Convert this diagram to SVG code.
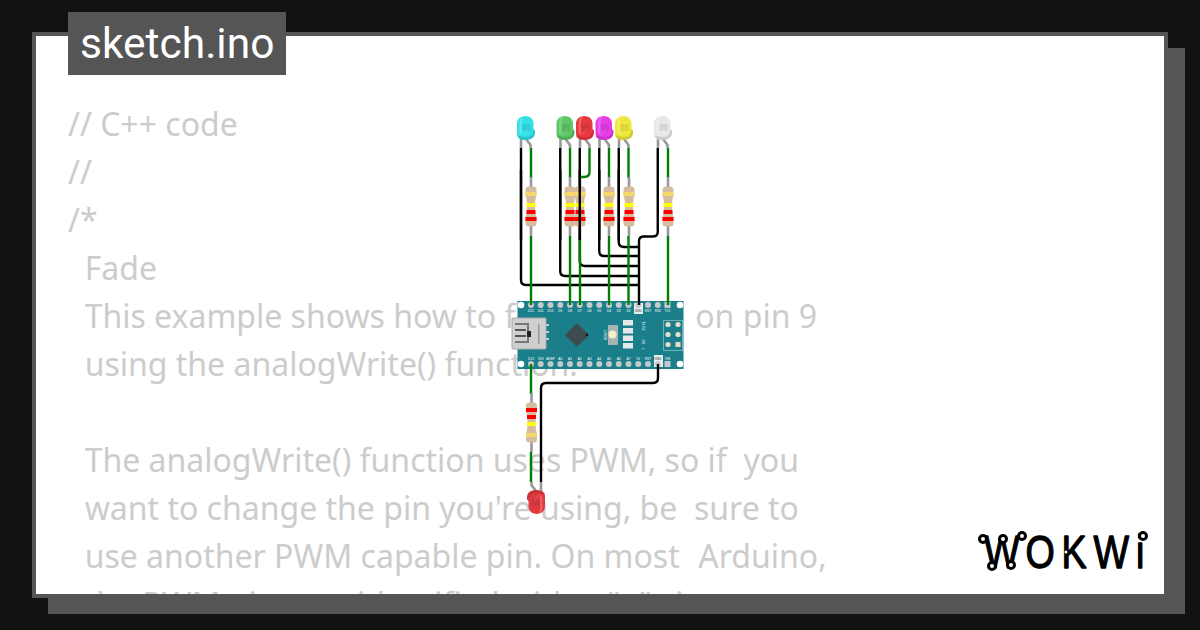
<svg xmlns="http://www.w3.org/2000/svg" xmlns:xlink="http://www.w3.org/1999/xlink" width="1200" height="630" viewBox="0 0 1200 630">
<style>
.code{font-family:"Noto Sans","Open Sans",sans-serif;font-size:32px;fill:#ccc;white-space:pre}
.tab{font-family:Roboto,"Liberation Sans",sans-serif;font-size:42.500px;fill:#fff}
.blk{fill:none;stroke:#000;stroke-width:2.400;stroke-linejoin:round}
.grn{fill:none;stroke:#008000;stroke-width:2.400;stroke-linejoin:round}
.lead{fill:none;stroke:#999;stroke-width:2.600}
.pin{fill:#c4c9c9}
.pl{font-family:"Liberation Sans",sans-serif;font-size:3.200px;fill:#fff;text-anchor:middle}
.logo{font-family:"Liberation Sans",sans-serif;font-size:47px;fill:#000;stroke:#000;stroke-width:1.300;stroke-linejoin:round}
.ring{fill:#fff;stroke:#000;stroke-width:3}
</style>
<defs>
<clipPath id="panel"><rect x="36" y="36" width="1128" height="558"/></clipPath>
<g id="resistor">
<path class="lead" d="M0 0V10M0 49V59"/>
<path d="M-5.500 13Q-5.500 9.500-2.500 9.500H2.500Q5.500 9.500 5.500 13V19Q4 22 4 29Q4 37 5.500 40V46Q5.500 49.500 2.500 49.500H-2.500Q-5.500 49.500-5.500 46V40Q-4 37-4 29Q-4 22-5.500 19Z" fill="#d5bd9f"/>
<rect x="-5.500" y="15" width="11" height="4" fill="#f5d76a"/>
<rect x="-4.500" y="26" width="9" height="4" fill="#ff0"/>
<rect x="-4.500" y="33" width="9" height="4" fill="#f00"/>
<rect x="-5.500" y="40" width="11" height="4" fill="#f00"/>
</g>
<g id="led">
<path class="lead" d="M-4.500 25V34"/>
<path class="lead" d="M.5 25L5 31V34"/>
<path d="M-8.500 20V8.500A8.500 8.500 0 0 1 8 8.500V15Q10 16 9.500 19Q9 26 0 26Q-8.500 26-8.500 20Z" fill="currentColor"/>
<path d="M8 15Q10 16 9.500 19Q9 26 0 26Q-6.500 26-8.500 21Q-3 23.500 2 23Q8 22 8 15Z" fill="#000" opacity=".13"/>
<path d="M-6 19V8.500Q-6 3.500-2 2.500Q-3.500 5.500-3.500 9V21Z" fill="#fff" opacity=".2"/>
<rect x="-3" y="10" width="8" height="7" fill="#000" opacity=".08"/>
<path d="M-3.500 20L3 13.500V15.500L-3.500 22Z" fill="#fff" opacity=".1"/>
</g>
</defs>

<rect width="1200" height="630" fill="#111"/>
<rect x="48" y="48" width="1137" height="566" fill="#555"/>
<rect x="34" y="34" width="1132" height="562" fill="#fff" stroke="#555" stroke-width="4"/>

<g clip-path="url(#panel)">
<text class="code" x="68" y="136">// C++ code</text>
<text class="code" x="68" y="184">//</text>
<text class="code" x="68" y="232">/*</text>
<text class="code" x="68" y="280">  Fade</text>
<text class="code" x="68" y="328">  This example shows how to fade an LED <tspan dx="3.500">on pin 9</tspan></text>
<text class="code" x="68" y="376">  using the analogWrite() function.</text>
<text class="code" x="68" y="472">  The analogWrite() function uses PWM, so if  you</text>
<text class="code" x="68" y="520">  want to change the pin you're using, be  sure to</text>
<text class="code" x="68" y="568">  use another PWM capable pin. On most  <tspan dx="2">Arduino,</tspan></text>
<text class="code" x="68" y="616">  the PWM pins are identified with a "~" sign,</text>
</g>

<g id="tab">
<rect x="68" y="12" width="218" height="63" fill="#555"/>
<text class="tab" x="80" y="58">sketch.ino</text>
</g>

<g id="board">
<rect x="517.500" y="301" width="166" height="68" fill="#1a7f8b"/>
<g fill="#fff"><circle cx="521" cy="305" r="3.300"/><circle cx="680" cy="305" r="3.300"/><circle cx="521" cy="364" r="3.300"/><circle cx="680" cy="364" r="3.300"/></g>
<rect x="634" y="303" width="9" height="11" fill="#e8eeee"/>
<rect x="654" y="355" width="9" height="12" fill="#e8eeee"/>
<g class="pin">
<circle cx="531" cy="305" r="3"/><circle cx="540.750" cy="305" r="3"/><circle cx="550.500" cy="305" r="3"/><circle cx="560.250" cy="305" r="3"/><circle cx="570" cy="305" r="3"/><circle cx="579.750" cy="305" r="3"/><circle cx="589.500" cy="305" r="3"/><circle cx="599.250" cy="305" r="3"/><circle cx="609" cy="305" r="3"/><circle cx="618.750" cy="305" r="3"/><circle cx="628.500" cy="305" r="3"/><circle cx="638.250" cy="305" r="3"/><circle cx="648" cy="305" r="3"/><circle cx="657.750" cy="305" r="3"/><rect x="664.500" y="302" width="6" height="6"/>
<circle cx="531" cy="364" r="3"/><circle cx="540.750" cy="364" r="3"/><circle cx="550.500" cy="364" r="3"/><circle cx="560.250" cy="364" r="3"/><circle cx="570" cy="364" r="3"/><circle cx="579.750" cy="364" r="3"/><circle cx="589.500" cy="364" r="3"/><circle cx="599.250" cy="364" r="3"/><circle cx="609" cy="364" r="3"/><circle cx="618.750" cy="364" r="3"/><circle cx="628.500" cy="364" r="3"/><circle cx="638.250" cy="364" r="3"/><circle cx="648" cy="364" r="3"/><circle cx="657.750" cy="364" r="3"/><rect x="664.500" y="361" width="6" height="6"/>
</g>
<g class="pl">
<text x="531" y="312">D12</text><text x="540.750" y="312">D11</text><text x="550.500" y="312">D10</text><text x="560.250" y="312">D9</text><text x="570" y="312">D8</text><text x="579.750" y="312">D7</text><text x="589.500" y="312">D6</text><text x="599.250" y="312">D5</text><text x="609" y="312">D4</text><text x="618.750" y="312">D3</text><text x="628.500" y="312">D2</text><text x="638.250" y="312" style="fill:#333">GND</text><text x="648" y="312">RST</text><text x="657.750" y="312">RX0</text><text x="667.500" y="312">TX1</text>
<text x="531" y="360">D13</text><text x="540.750" y="360">3V3</text><text x="550.500" y="360">AREF</text><text x="560.250" y="360">A0</text><text x="570" y="360">A1</text><text x="579.750" y="360">A2</text><text x="589.500" y="360">A3</text><text x="599.250" y="360">A4</text><text x="609" y="360">A5</text><text x="618.750" y="360">A6</text><text x="628.500" y="360">A7</text><text x="638.250" y="360">5V</text><text x="648" y="360">RST</text><text x="657.750" y="360" style="fill:#333">GND</text><text x="667.500" y="360">VIN</text>
<text transform="translate(606.500 335) rotate(-90)">RESET</text>
<text transform="translate(642 326) rotate(90)">TX RX</text>
<text transform="translate(642 342) rotate(90)">ON</text>
<text transform="translate(642 349) rotate(90)">L</text>
</g>
<g id="usb">
<rect x="512" y="318" width="34" height="31" rx="1" fill="#cfcfcf" stroke="#aaa"/>
<rect x="546" y="324" width="3" height="2" fill="#ccc"/><rect x="546" y="331" width="3" height="2" fill="#ccc"/><rect x="546" y="338" width="3" height="2" fill="#ccc"/>
<path d="M515 323H529V343H515V341H527V325H515Z" fill="#777"/>
<rect x="515" y="329" width="11" height="2" fill="#555"/>
<rect x="515" y="335" width="11" height="2" fill="#555"/>
<rect x="527" y="331" width="4" height="6" fill="#222"/>
<rect x="538" y="324" width="1.500" height="20" fill="#999"/>
</g>
<rect x="-8.500" y="-8.500" width="17" height="17" rx="1" transform="translate(577 335) rotate(45)" fill="#3d4a4f"/>
<circle cx="587" cy="335" r="1.200" fill="#111"/>
<rect x="608" y="325" width="10" height="20" rx="1" fill="#a9b5b5"/>
<circle cx="612.500" cy="334.500" r="4" fill="#f5f0c8"/>
<g fill="#e4e8e8">
<rect x="623" y="320" width="10" height="5.500"/><rect x="623" y="328" width="10" height="5.500"/><rect x="623" y="335.500" width="10" height="5.500"/><rect x="623" y="343" width="10" height="5.500"/>
</g>
<rect x="663.500" y="320.500" width="19" height="30" fill="none" stroke="#6fb0b8"/>
<g fill="#e6dcc8">
<circle cx="668" cy="324.500" r="2.600"/><circle cx="678" cy="324.500" r="2.600"/><circle cx="668" cy="334.500" r="2.600"/><circle cx="678" cy="334.500" r="2.600"/><circle cx="668" cy="344.500" r="2.600"/><rect x="675.500" y="342" width="5" height="5"/>
</g>
</g>

<g id="connectors">
<path class="blk" d="M521 148V280Q521 285 526 285H639"/>
<path class="blk" d="M560.250 148V271Q560.250 276 565 276H639"/>
<path class="blk" d="M579.750 148V261Q579.750 266 585 266H639"/>
<path class="blk" d="M599.250 148V251Q599.250 256 604 256H639"/>
<path class="blk" d="M618.750 148V242Q618.750 247 624 247H639"/>
<path class="blk" d="M657.750 148V232Q657.750 236.500 653 236.500H644Q639 236.500 639 241V305"/>
<path class="grn" d="M531 148V178"/>
<path class="grn" d="M570 148V178"/>
<path class="grn" d="M589.500 148V172Q589.500 177 584 177H580V178"/>
<path class="grn" d="M609 148V178"/>
<path class="grn" d="M628.500 148V178"/>
<path class="grn" d="M668 148V178"/>
<path class="grn" d="M531 236V305"/>
<path class="grn" d="M570 236V305"/>
<path class="grn" d="M580 236V305"/>
<path class="grn" d="M609 236V305"/>
<path class="grn" d="M628.500 236V305"/>
<path class="grn" d="M668 236V305"/>
<path class="grn" d="M531 364V394"/>
<path class="grn" d="M531 452V482"/>
<path class="blk" d="M658 364V378Q658 383 653 383H546Q541 383 541 388V482"/>
</g>

<g id="resistors">
<use xlink:href="#resistor" x="531" y="177"/>
<use xlink:href="#resistor" x="570" y="177"/>
<use xlink:href="#resistor" x="580" y="177"/>
<use xlink:href="#resistor" x="609" y="177"/>
<use xlink:href="#resistor" x="629" y="177"/>
<use xlink:href="#resistor" x="668" y="177"/>
<use xlink:href="#resistor" transform="translate(531.500 452) scale(1 -1)"/>
</g>
<path class="blk" d="M579.750 170V240"/>
<path class="blk" d="M560.250 170V240"/>
<path class="blk" d="M521 170V240"/>
<path class="blk" d="M599.250 170V240"/>
<path class="blk" d="M618.750 170V240"/>

<g id="leds">
<use xlink:href="#led" x="525.500" y="114" color="#33e0e6"/>
<use xlink:href="#led" x="565" y="114" color="#5ec769"/>
<use xlink:href="#led" x="584.500" y="114" color="#e83a3e"/>
<use xlink:href="#led" x="604" y="114" color="#e63ce6"/>
<use xlink:href="#led" x="623.500" y="114" color="#eee83c"/>
<use xlink:href="#led" x="662.500" y="114" color="#e8e8e8"/>
<use xlink:href="#led" transform="translate(536.500 516) rotate(180)" color="#e03a40"/>
</g>

<g id="logo">
<text class="logo" transform="scale(.8 1)" y="568" x="1230 1282 1327 1367 1420">WOKWi</text>
<circle class="ring" cx="983" cy="539" r="3.500"/>
<circle class="ring" cx="1003" cy="539" r="3.500"/>
<circle class="ring" cx="1022" cy="536" r="3.500"/>
<circle class="ring" cx="992" cy="566" r="3.500"/>
<circle class="ring" cx="1011" cy="565" r="3.500"/>
<circle cx="1066" cy="552" r="1.500" fill="#fff"/>
<circle class="ring" cx="1143" cy="536" r="3.500"/>
</g>
</svg>
